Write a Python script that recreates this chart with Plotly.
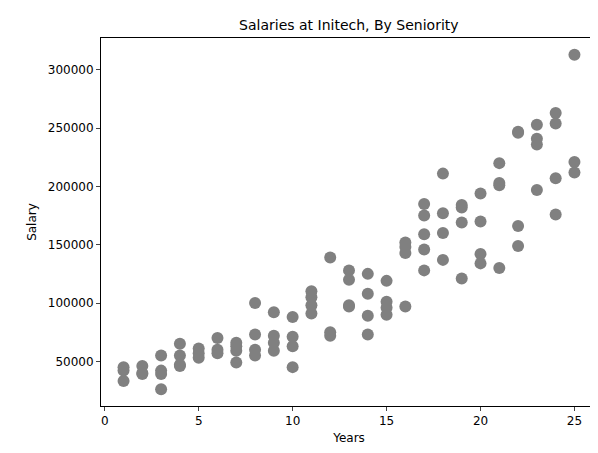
import plotly.graph_objects as go

years = [1, 1, 1, 2, 2, 2, 3, 3, 3, 3, 4, 4, 4, 4, 5, 5, 5, 6, 6, 6,
         7, 7, 7, 7, 8, 8, 8, 8, 9, 9, 9, 9, 10, 10, 10, 10, 11, 11, 11, 11,
         12, 12, 12, 13, 13, 13, 13, 14, 14, 14, 14, 15, 15, 15, 15,
         16, 16, 16, 16, 17, 17, 17, 17, 17, 18, 18, 18, 18, 19, 19, 19, 19,
         20, 20, 20, 20, 21, 21, 21, 21, 22, 22, 22, 22, 23, 23, 23, 23,
         24, 24, 24, 24, 25, 25, 25]
salaries = [42000, 45000, 33000, 46000, 40000, 39000, 55000, 42000, 39000, 26000,
            65000, 55000, 47000, 46000, 61000, 57000, 53000, 70000, 60000, 57000,
            66000, 63000, 59000, 49000, 100000, 73000, 60000, 55000,
            92000, 72000, 66000, 59000, 88000, 71000, 63000, 45000,
            110000, 105000, 98000, 91000, 139000, 75000, 72000,
            128000, 120000, 98000, 97000, 125000, 108000, 89000, 73000,
            119000, 101000, 96000, 90000, 152000, 148000, 143000, 97000,
            185000, 175000, 159000, 146000, 128000, 211000, 177000, 160000, 137000,
            184000, 182000, 169000, 121000, 194000, 170000, 142000, 134000,
            220000, 203000, 201000, 130000, 247000, 246000, 166000, 149000,
            253000, 241000, 236000, 197000, 263000, 254000, 207000, 176000,
            313000, 221000, 212000]

fig = go.Figure(go.Scatter(
    x=years, y=salaries, mode="markers",
    marker=dict(color="gray", size=12, line=dict(width=0)),
))

axis_common = dict(showgrid=False, zeroline=False, showline=True, mirror=True,
                   linecolor="black", linewidth=1, ticks="outside", ticklen=4,
                   automargin=False, tickfont=dict(size=12, color="black"))

fig.update_layout(
    width=598, height=453,
    title=dict(text="Salaries at Initech, By Seniority", x=0.57, xanchor="center",
               y=0.962, yanchor="middle", automargin=False,
               font=dict(size=14, color="black")),
    font=dict(family="DejaVu Sans", color="black"),
    plot_bgcolor="white", paper_bgcolor="white",
    margin=dict(l=93, r=9, t=30, b=55, autoexpand=False),
    xaxis=dict(title=dict(text="Years", font=dict(size=12), standoff=6),
               range=[-0.2, 26.2], tickvals=[0, 5, 10, 15, 20, 25], **axis_common),
    yaxis=dict(title=dict(text="Salary", font=dict(size=12), standoff=8),
               range=[11650, 327350], tickvals=[50000, 100000, 150000, 200000, 250000, 300000],
               tickformat="d", **axis_common),
    showlegend=False,
)

fig.write_html("out.html")
